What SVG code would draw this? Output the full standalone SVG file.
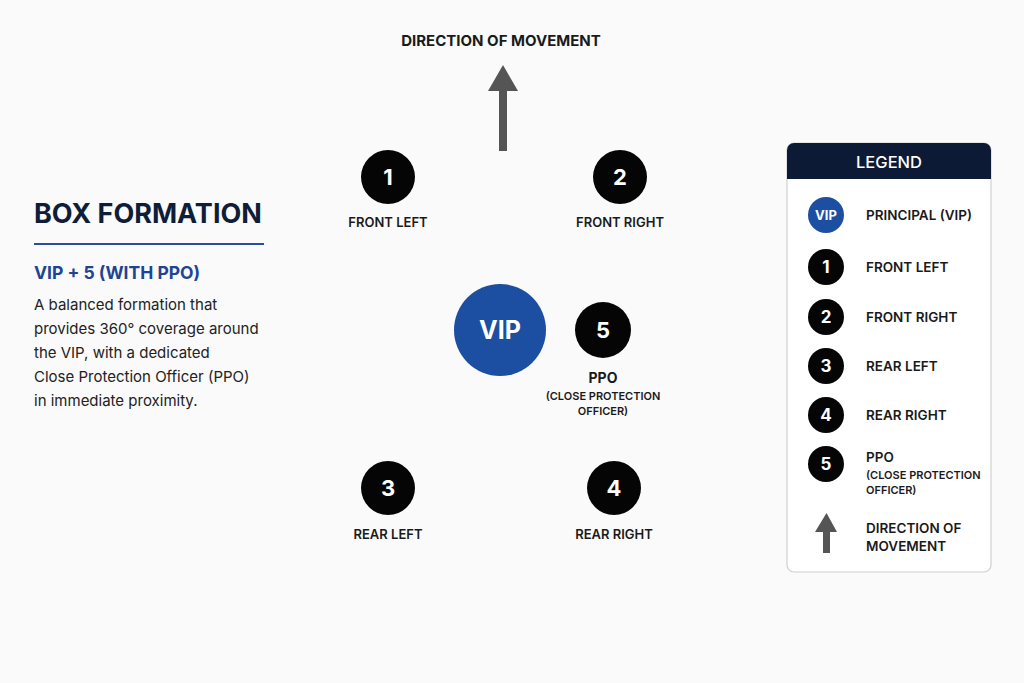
<svg xmlns="http://www.w3.org/2000/svg" width="1024" height="683" viewBox="0 0 1024 683">
<style>
text{font-family:Inter,"Noto Sans","Liberation Sans",sans-serif}
.lbl{font-size:13px;font-weight:600;fill:#1a1a1a;text-anchor:middle}
.num{font-size:22px;font-weight:700;fill:#fff;text-anchor:middle}
.lnum{font-size:17px;font-weight:700;fill:#fff;text-anchor:middle}
.dot{fill:#050505}
.small{font-size:11px;font-weight:600;fill:#1a1a1a;text-anchor:middle}
.leg{font-size:13.5px;font-weight:600;fill:#1a1a1a}
.legs{font-size:11px;font-weight:600;fill:#1a1a1a}
.para{font-size:15px;fill:#222}
.arrow{fill:#555}
</style>
<rect width="1024" height="683" fill="#fafafa"/>
<g id="title">
<text x="34" y="223" font-size="27" font-weight="700" fill="#0f1d38">BOX FORMATION</text>
<rect x="34" y="243" width="230" height="2" fill="#2a4f9e"/>
<text x="34" y="279" font-size="17.5" font-weight="700" fill="#1d4594">VIP + 5 (WITH PPO)</text>
<text class="para" x="34" y="310">A balanced formation that</text>
<text class="para" x="34" y="334">provides 360° coverage around</text>
<text class="para" x="34" y="358">the VIP, with a dedicated</text>
<text class="para" x="34" y="382">Close Protection Officer (PPO)</text>
<text class="para" x="34" y="406">in immediate proximity.</text>
</g>
<g id="direction">
<text x="501" y="46" font-size="15" font-weight="700" fill="#1a1a1a" text-anchor="middle">DIRECTION OF MOVEMENT</text>
<rect class="arrow" x="499" y="89" width="8" height="62"/>
<polygon class="arrow" points="503,65 518,91 488,91"/>
</g>
<g id="connectors"></g>
<g id="node-vip">
<circle cx="500" cy="330" r="46" fill="#1c4ea1"/>
<text x="500" y="339" font-size="25" font-weight="700" fill="#fff" text-anchor="middle">VIP</text>
</g>
<g id="node-1">
<circle class="dot" cx="388" cy="177" r="27"/>
<text class="num" x="388" y="185">1</text>
<text class="lbl" x="388" y="227">FRONT LEFT</text>
</g>
<g id="node-2">
<circle class="dot" cx="620" cy="177" r="27"/>
<text class="num" x="620" y="185">2</text>
<text class="lbl" x="620" y="227">FRONT RIGHT</text>
</g>
<g id="node-5">
<circle class="dot" cx="603" cy="330" r="28"/>
<text class="num" x="603" y="338">5</text>
<text x="603" y="383" font-size="14" font-weight="700" fill="#1a1a1a" text-anchor="middle">PPO</text>
<text class="small" x="603" y="400">(CLOSE PROTECTION</text>
<text class="small" x="603" y="415">OFFICER)</text>
</g>
<g id="node-3">
<circle class="dot" cx="388" cy="488" r="27"/>
<text class="num" x="388" y="496">3</text>
<text class="lbl" x="388" y="539">REAR LEFT</text>
</g>
<g id="node-4">
<circle class="dot" cx="614" cy="488" r="27"/>
<text class="num" x="614" y="496">4</text>
<text class="lbl" x="614" y="539">REAR RIGHT</text>
</g>
<g id="legend">
<rect x="787" y="143" width="204" height="429" rx="7" fill="#fff" stroke="#d0d0d0" stroke-width="1.2"/>
<path d="M787,179 V150 a7,7 0 0 1 7,-7 H984 a7,7 0 0 1 7,7 V179 Z" fill="#0c1a35"/>
<text x="889" y="168" font-size="16.5" font-weight="500" fill="#fff" text-anchor="middle">LEGEND</text>
<circle cx="826" cy="215" r="18" fill="#1c4ea1"/>
<text x="826" y="220" font-size="13" font-weight="700" fill="#fff" text-anchor="middle">VIP</text>
<text class="leg" x="866" y="220">PRINCIPAL (VIP)</text>
<circle class="dot" cx="826" cy="267" r="18"/>
<text class="lnum" x="826" y="273">1</text>
<text class="leg" x="866" y="272">FRONT LEFT</text>
<circle class="dot" cx="826" cy="317" r="18"/>
<text class="lnum" x="826" y="323">2</text>
<text class="leg" x="866" y="322">FRONT RIGHT</text>
<circle class="dot" cx="826" cy="366" r="18"/>
<text class="lnum" x="826" y="372">3</text>
<text class="leg" x="866" y="371">REAR LEFT</text>
<circle class="dot" cx="826" cy="415" r="18"/>
<text class="lnum" x="826" y="421">4</text>
<text class="leg" x="866" y="420">REAR RIGHT</text>
<circle class="dot" cx="826" cy="464" r="18"/>
<text class="lnum" x="826" y="470">5</text>
<text class="leg" x="866" y="462">PPO</text>
<text class="legs" x="866" y="479">(CLOSE PROTECTION</text>
<text class="legs" x="866" y="494">OFFICER)</text>
<rect class="arrow" x="823" y="530" width="7" height="23"/>
<polygon class="arrow" points="826.5,513 837,532 815,532"/>
<text class="leg" x="866" y="533">DIRECTION OF</text>
<text class="leg" x="866" y="551">MOVEMENT</text>
</g>
</svg>
